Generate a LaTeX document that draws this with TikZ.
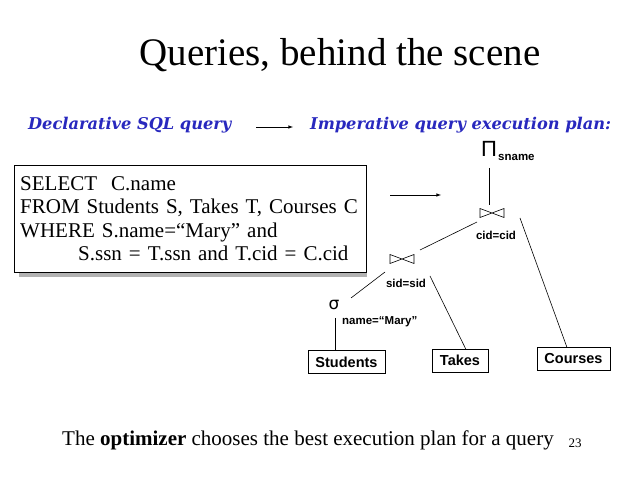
\documentclass[tikz,border=0pt]{standalone}
\usepackage{fontspec}
\setmainfont{Liberation Serif}
\setsansfont{Liberation Sans}
\newfontfamily\dejavu{DejaVu Sans}
\newfontfamily\hdfont{DejaVu Serif}
\definecolor{hdr}{RGB}{40,40,190}
\newcommand{\mybowtie}{\tikz[x=1pt,y=1pt]\draw[line width=0.6pt] (0,0)--(0,9)--(24,0)--(24,9)--cycle;}
\begin{document}
\begin{tikzpicture}[x=1pt,y=-1pt,
  lbl/.style={font=\sffamily\bfseries\fontsize{11.5}{13}\selectfont, inner sep=1pt},
  rel/.style={draw, font=\sffamily\bfseries\fontsize{14.5}{16}\selectfont, minimum height=23, inner xsep=3},
  op/.style={inner sep=0pt},
  ln/.style={line width=0.6pt},
  hd/.style={font=\hdfont\bfseries\itshape\fontsize{16.2}{20}\selectfont, text=hdr}]
\useasboundingbox (0,0) rectangle (638,478);
\node (title) at (340,55) {\fontsize{39}{42}\selectfont Queries, behind the scene};
\node[hd, anchor=west, inner sep=0] (decl) at (28,125) {Declarative SQL query};
\node[hd, anchor=west, inner sep=0] (imp) at (310,125) {Imperative query execution plan:};
\coordinate (a1) at (256,127); \coordinate (a2) at (293,127);
\draw[ln,-latex] (a1) -- (a2);
\fill[gray!60] (19,170) rectangle (367,277);
\node[draw, fill=white, anchor=north west, minimum width=348, minimum height=107, align=left, text width=340, inner xsep=6, inner ysep=3,
  font=\fontsize{21}{23.5}\selectfont] (sql) at (14,165)
  {SELECT\ \ C.name\\FROM Students S, Takes T, Courses C\\WHERE S.name=“Mary” and\\\hspace*{58pt}S.ssn = T.ssn and T.cid = C.cid};
\coordinate (b1) at (390,195); \coordinate (b2) at (441,195);
\draw[ln,-latex] (b1) -- (b2);
\node[op, font=\sffamily\fontsize{22}{22}\selectfont] (pi) at (489,149) {Π};
\node[lbl, anchor=west] at (497,157) {sname};
\node[op] (j1) at (492,213) {\mybowtie};
\node[lbl] at (496,235) {cid=cid};
\node[op] (j2) at (402,259) {\mybowtie};
\node[lbl] at (406,283) {sid=sid};
\node[op, font=\dejavu\fontsize{17}{17}\selectfont] (sg) at (334,305) {σ};
\node[lbl, anchor=west] at (341,322) {name=“Mary”};
\node[rel, minimum width=77] (stu) at (346.5,362) {Students};
\node[rel, minimum width=56] (tak) at (460,360.5) {Takes};
\node[rel, minimum width=73] (cou) at (573.5,358.5) {Courses};
\coordinate (p1) at (489,168); \coordinate (p2) at (489,205);
\draw[ln] (p1) -- (p2);
\coordinate (q1) at (477,222); \coordinate (q2) at (420,250);
\draw[ln] (q1) -- (q2);
\coordinate (r1) at (385,272); \coordinate (r2) at (351,298);
\draw[ln] (r1) -- (r2);
\coordinate (s1) at (335,318);
\draw[ln] (s1) -- (stu.north -| s1);
\coordinate (t1) at (430,276);
\draw[ln] (t1) -- (466,349.5);
\coordinate (u1) at (520,218);
\draw[ln] (u1) -- (567,347.5);
\node[anchor=west, inner sep=0] (bot) at (62,440) {\fontsize{21}{23}\selectfont The \textbf{optimizer} chooses the best execution plan for a query};
\node (pg) at (575,443) {\fontsize{13}{14}\selectfont 23};
\end{tikzpicture}
\end{document}
